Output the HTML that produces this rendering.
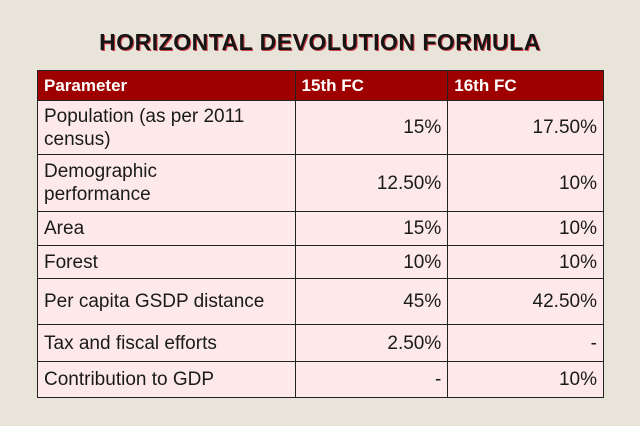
<!DOCTYPE html>
<html><head><meta charset="utf-8"><style>
body{margin:0;width:640px;height:426px;background:#e9e4da;font-family:"Liberation Sans",sans-serif;position:relative;overflow:hidden}
h1{position:absolute;top:29px;left:0;width:640px;margin:0;text-align:center;font-size:23px;font-weight:900;color:#151515;letter-spacing:0.5px;text-shadow:1px 1px 0 #d04048}
table{position:absolute;left:37px;top:70px;border-collapse:collapse;width:567px}
td,th{border:1.5px solid #222;padding:0 6px;font-size:19px;line-height:23px;color:#1a1a1a;background:#fde9e9}
th{background:#9e0000;color:#fff;text-align:left;font-size:17px;height:29px}
td.n{text-align:right}
</style></head><body>
<h1>HORIZONTAL DEVOLUTION FORMULA</h1>
<table>
<colgroup><col style="width:258px"><col style="width:153px"><col style="width:156px"></colgroup>
<tr><th>Parameter</th><th>15th FC</th><th>16th FC</th></tr>
<tr style="height:54px"><td>Population (as per 2011<br>census)</td><td class="n">15%</td><td class="n">17.50%</td></tr>
<tr style="height:57px"><td>Demographic<br>performance</td><td class="n">12.50%</td><td class="n">10%</td></tr>
<tr style="height:34px"><td>Area</td><td class="n">15%</td><td class="n">10%</td></tr>
<tr style="height:33px"><td>Forest</td><td class="n">10%</td><td class="n">10%</td></tr>
<tr style="height:46px"><td>Per capita GSDP distance</td><td class="n">45%</td><td class="n">42.50%</td></tr>
<tr style="height:37px"><td>Tax and fiscal efforts</td><td class="n">2.50%</td><td class="n">-</td></tr>
<tr style="height:36px"><td>Contribution to GDP</td><td class="n">-</td><td class="n">10%</td></tr>
</table>
</body></html>
